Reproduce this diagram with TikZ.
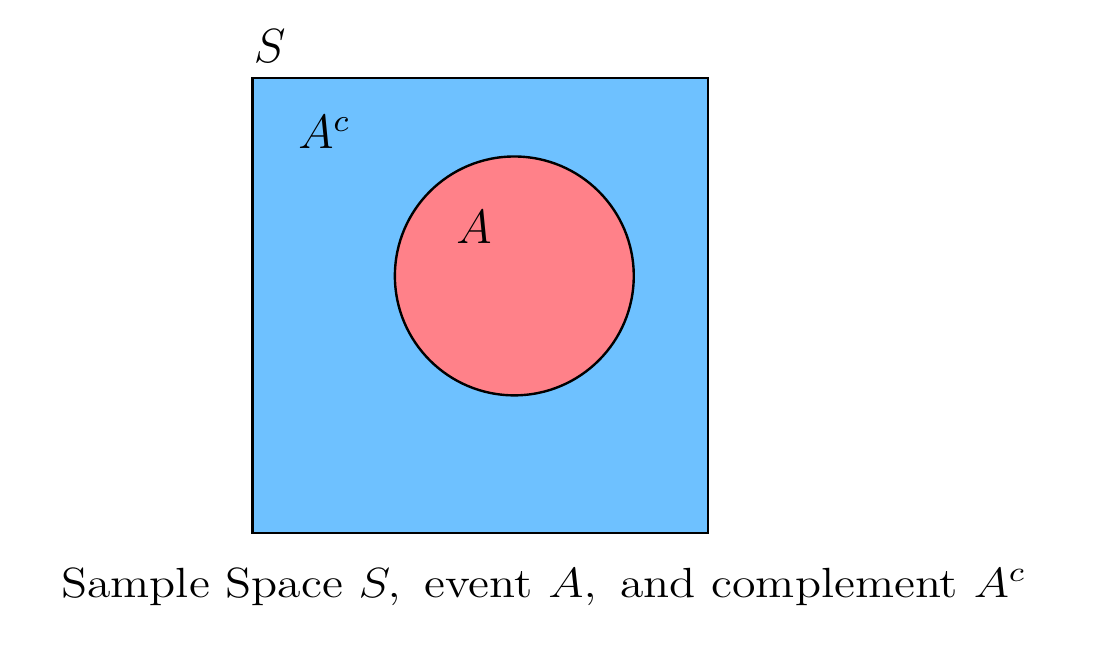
\documentclass[tikz,border=0pt]{standalone}
\usepackage{graphicx}
\usetikzlibrary{calc}
\definecolor{spaceBlue}{RGB}{110,193,255}
\definecolor{eventRed}{RGB}{255,129,137}
\tikzset{
    set region/.style={draw=black, line width=0.6pt},
    set label/.style={font=\large, inner sep=0pt}
}

\begin{document}
\begin{tikzpicture}[
            every node/.style={inner sep=0pt}
        ]
        \useasboundingbox (-2.2215, -1.0286) rectangle (7.4224, 4.6857);

        \path
            coordinate (sw) at (0, 0)
            coordinate (ne) at (4, 4)
            coordinate (c) at (2.3, 2.26);

        \filldraw[set region, fill=spaceBlue] (sw) rectangle (ne);
        \filldraw[set region, fill=eventRed] (c) circle[radius=1.05];

        \node[set label] (labelS) at (0.15, 4.28) {\(S\)};
        \node[set label] (labelAc) at (0.63, 3.52) {\(A^c\)};
        \node[set label] (labelA) at (1.945, 2.69) {\(A\)};

        \node[set label, anchor=base] (caption) at (2.556, -0.565)
            {\scalebox{1}[0.88]{Sample Space \(S,\ \,\)event \(A,\ \,\)and complement \(A^c\)}};
    \end{tikzpicture}
\end{document}
